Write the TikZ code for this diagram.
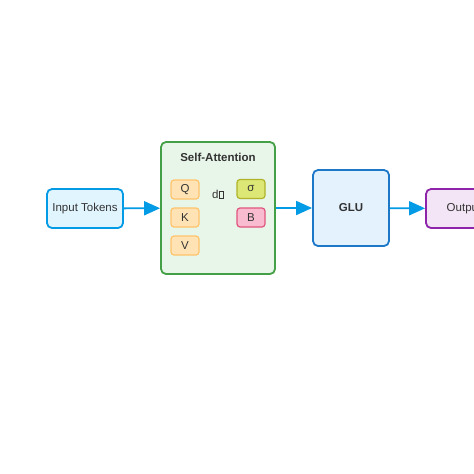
\documentclass[tikz,border=0pt]{standalone}
\usepackage{fontspec}
\setmainfont{Liberation Sans}
\usetikzlibrary{arrows.meta}
\definecolor{arrowc}{HTML}{039BE5}
\definecolor{inB}{HTML}{039BE5}\definecolor{inF}{HTML}{E1F5FE}
\definecolor{saB}{HTML}{43A047}\definecolor{saF}{HTML}{E8F5E9}
\definecolor{qB}{HTML}{FFC46B}\definecolor{qF}{HTML}{FFE3B5}
\definecolor{sB}{HTML}{AFB42B}\definecolor{sF}{HTML}{DCE775}
\definecolor{bB}{HTML}{E0567F}\definecolor{bF}{HTML}{F8BBD0}
\definecolor{gB}{HTML}{1E78C8}\definecolor{gF}{HTML}{E3F2FD}
\definecolor{oB}{HTML}{8E24AA}\definecolor{oF}{HTML}{F3E5F5}
\definecolor{txt}{HTML}{333333}
\tikzset{
  x=1pt,y=-1pt,
  box/.style={draw, line width=1.8pt, rounded corners=5pt, inner sep=0pt, text=txt, font=\fontsize{11.5}{13}\selectfont},
  small/.style={draw, line width=1.2pt, rounded corners=3pt, minimum width=28pt, minimum height=19pt, inner sep=0pt, text=txt, font=\fontsize{11.5}{13}\selectfont},
  flow/.style={draw=arrowc, line width=1.8pt, -{Triangle[length=16pt,width=14pt]}},
}
\begin{document}
\begin{tikzpicture}
\useasboundingbox (0,0) rectangle (474,474);
\clip (0,0) rectangle (474,474);
\fill[white] (0,0) rectangle (474,474);
\node[box, draw=inB, fill=inF, minimum width=76pt, minimum height=39pt] (in) at (85,208.5) {Input Tokens};
\node[box, draw=saB, fill=saF, minimum width=114pt, minimum height=132pt] (sa) at (218,208) {};
\node[font=\bfseries\fontsize{11.5}{13}\selectfont, text=txt] (title) at (218,157) {Self-Attention};
\node[small, draw=qB, fill=qF] (q) at (185,189.5) {Q};
\node[small, draw=qB, fill=qF] (k) at (185,217.5) {K};
\node[small, draw=qB, fill=qF] (v) at (185,245.5) {V};
\node[small, draw=sB, fill=sF] (s) at (251,189) {σ};
\node[small, draw=bB, fill=bF] (b) at (251,217.5) {B};
\node[text=txt, font=\fontsize{11.5}{13}\selectfont] (d) at (218,194.5) {d{\fboxsep=0pt\fboxrule=0.4pt\fbox{\rule{0pt}{7pt}\hspace{4.5pt}}}};
\node[box, draw=gB, fill=gF, minimum width=76pt, minimum height=76pt, font=\bfseries\fontsize{11.5}{13}\selectfont] (glu) at (351,208) {GLU};
\node[box, draw=oB, fill=oF, minimum width=76pt, minimum height=39pt] (out) at (464,208.5) {Output};
\draw[flow] (in) -- (sa);
\draw[flow] (sa) -- (glu);
\draw[flow] (glu) -- (out);
\end{tikzpicture}
\end{document}
